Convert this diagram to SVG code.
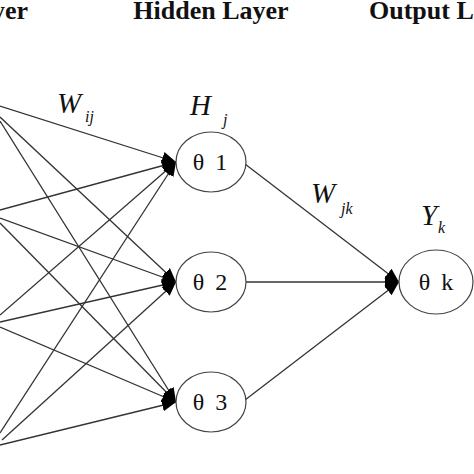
<svg xmlns="http://www.w3.org/2000/svg" width="474" height="474" viewBox="0 0 474 474">
<style>
.title{font-family:"Liberation Serif",serif;font-weight:bold;font-size:26px;fill:#111}
.var{font-family:"Liberation Serif",serif;font-style:italic;font-size:29px;fill:#111}
.sub{font-family:"Liberation Serif",serif;font-style:italic;font-size:16px;fill:#111}
.node{fill:#fff;stroke:#444;stroke-width:1.2}
.lbl{font-family:"Liberation Serif",serif;font-size:24px;fill:#111;text-anchor:middle;word-spacing:5px}
.edge{stroke:#333;stroke-width:1.3;fill:none;marker-end:url(#ah)}
</style>
<defs>
<marker id="ah" markerUnits="userSpaceOnUse" markerWidth="16" markerHeight="14" refX="14" refY="7" orient="auto">
<path d="M0,1 L14,7 L0,13 z" fill="#000"/>
</marker>
</defs>
<rect width="474" height="474" fill="#fff"/>
<g id="titles">
<text class="title" x="28" y="19" text-anchor="end">Input Layer</text>
<text class="title" x="211" y="19" text-anchor="middle">Hidden Layer</text>
<text class="title" x="369" y="19">Output Layer</text>
</g>
<g id="connectors">
<line class="edge" x1="0" y1="106" x2="176" y2="162"/>
<line class="edge" x1="0" y1="117" x2="176" y2="282"/>
<line class="edge" x1="0" y1="121" x2="176" y2="402"/>
<line class="edge" x1="0" y1="210" x2="176" y2="162"/>
<line class="edge" x1="0" y1="218" x2="176" y2="282"/>
<line class="edge" x1="0" y1="223" x2="176" y2="402"/>
<line class="edge" x1="0" y1="315" x2="176" y2="162"/>
<line class="edge" x1="0" y1="322" x2="176" y2="282"/>
<line class="edge" x1="0" y1="327" x2="176" y2="402"/>
<line class="edge" x1="0" y1="433" x2="176" y2="162"/>
<line class="edge" x1="2" y1="440" x2="176" y2="282"/>
<line class="edge" x1="0" y1="445" x2="176" y2="402"/>
<line class="edge" x1="245" y1="164" x2="399" y2="282"/>
<line class="edge" x1="246" y1="282" x2="399" y2="282"/>
<line class="edge" x1="245" y1="400" x2="399" y2="282"/>
</g>
<g id="weights">
<text class="var" x="57" y="113">W</text>
<text class="sub" x="85" y="122">ij</text>
<text class="var" x="311" y="203">W</text>
<text class="sub" x="341" y="214">jk</text>
</g>
<g id="H1">
<ellipse class="node" cx="211" cy="162" rx="35" ry="30"/>
<text class="lbl" x="210" y="170">θ 1</text>
</g>
<g id="H2">
<ellipse class="node" cx="211" cy="282" rx="35" ry="30"/>
<text class="lbl" x="210" y="290">θ 2</text>
</g>
<g id="H3">
<ellipse class="node" cx="211" cy="402" rx="35" ry="30"/>
<text class="lbl" x="210" y="410">θ 3</text>
</g>
<g id="Hj">
<text class="var" x="190" y="115">H</text>
<text class="sub" x="223" y="125">j</text>
</g>
<g id="Yk">
<ellipse class="node" cx="436" cy="282" rx="37" ry="32"/>
<text class="lbl" x="436" y="290">θ k</text>
<text class="var" x="421" y="225">Y</text>
<text class="sub" x="438" y="233">k</text>
</g>
</svg>
